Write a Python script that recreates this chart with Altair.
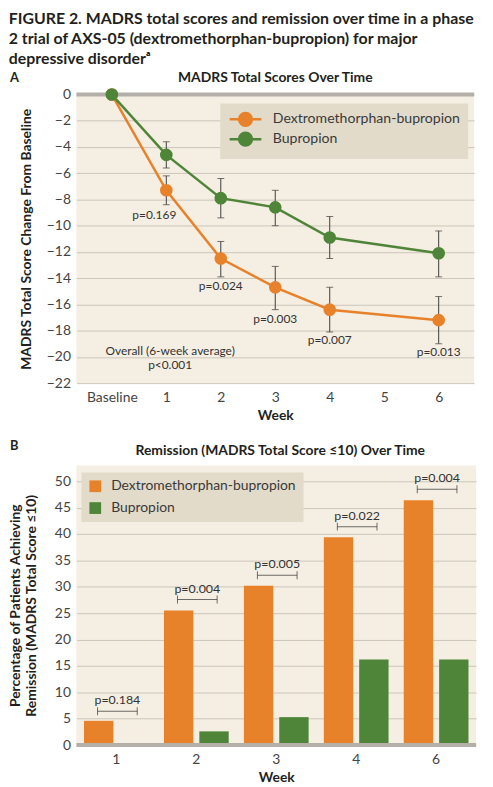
import altair as alt
import pandas as pd

FONT = "Lato"
ORANGE = "#e8822a"
GREEN = "#4e8538"
INK = "#231f20"

series = ["Dextromethorphan-bupropion", "Bupropion"]

# Panel A: MADRS change from baseline (mean, lower and upper error bar)
weeks = [0, 1, 2, 3, 4, 6]
dex_change = [0, -7.3, -12.5, -14.7, -16.4, -17.2]
dex_low = [None, -8.4, -13.9, -16.4, -18.1, -19.0]
dex_high = [None, -6.2, -11.2, -13.1, -14.7, -15.4]
bup_change = [0, -4.6, -7.9, -8.6, -10.9, -12.1]
bup_low = [None, -5.6, -9.4, -10.0, -12.5, -13.9]
bup_high = [None, -3.6, -6.4, -7.3, -9.3, -10.4]

pvals_a = ["p=0.169", "p=0.024", "p=0.003", "p=0.007", "p=0.013"]
pvals_a_week = [0.78, 2, 3, 4, 6]
pvals_a_y = [-9.2, -14.6, -17.1, -18.7, -19.6]

overall_text = ["Overall (6-week average)", "p<0.001"]
overall_week = [1.07, 1.07]
overall_y = [-19.55, -20.6]

# Panel B: remission rates
rem_weeks = ["1", "2", "3", "4", "6"]
dex_rem = [4.6, 25.5, 30.2, 39.4, 46.4]
bup_rem = [0, 2.6, 5.3, 16.2, 16.2]
pvals_b = ["p=0.184", "p=0.004", "p=0.005", "p=0.022", "p=0.004"]
bracket_b = [6.4, 27.6, 32.2, 41.4, 48.5]

df_a = pd.DataFrame({
    "week": weeks * 2,
    "change": dex_change + bup_change,
    "low": dex_low + bup_low,
    "high": dex_high + bup_high,
    "series": [series[0]] * 6 + [series[1]] * 6,
})
df_err = df_a.dropna()
df_caps = df_err.melt(id_vars=["week", "series"], value_vars=["low", "high"], value_name="cap")
df_pa = pd.DataFrame({"week": pvals_a_week, "y": pvals_a_y, "label": pvals_a})
df_overall = pd.DataFrame({"week": overall_week, "y": overall_y, "label": overall_text})

df_b = pd.DataFrame({
    "week": rem_weeks * 2,
    "pct": dex_rem + bup_rem,
    "series": [series[0]] * 5 + [series[1]] * 5,
})
df_pb = pd.DataFrame({"week": rem_weeks, "y": bracket_b, "label": pvals_b})

color_scale = alt.Scale(domain=series, range=[ORANGE, GREEN])


def heading(tag, text, width, y, tag_y):
    # panel letter on the left, panel title centred over the plot
    tag_mark = alt.Chart(pd.DataFrame({"t": [tag]})).mark_text(
        fontSize=13, fontWeight="bold", font=FONT, color=INK, align="left").encode(
        text="t:N", x=alt.value(-67), y=alt.value(tag_y))
    title_mark = alt.Chart(pd.DataFrame({"t": [text]})).mark_text(
        fontSize=14, fontWeight="bold", font=FONT, color=INK).encode(
        text="t:N", x=alt.value(width / 2), y=alt.value(y))
    return tag_mark, title_mark


# ---------- panel A ----------
W_A, H_A = 401, 291
axis_xa = alt.Axis(values=[0, 1, 2, 3, 4, 5, 6], format="d", tickCount=20,
                   labelExpr="datum.value == 0 ? 'Baseline' : datum.label",
                   labelOverlap=False, grid=False, domain=False, ticks=False,
                   labelPadding=8, title="Week", titlePadding=4)
axis_ya = alt.Axis(values=list(range(0, -23, -2)), format="d", tickCount=30,
                   labelOverlap=False, domain=False, ticks=False, labelPadding=6,
                   title="MADRS Total Score Change From Baseline", titlePadding=13)
x_a = alt.X("week:Q", scale=alt.Scale(domain=[-0.65, 6.65], nice=False, zero=False),
            axis=axis_xa)
y_a = alt.Y("change:Q", scale=alt.Scale(domain=[-22, 0], nice=False), axis=axis_ya)

legend_line = "M-2.46,0L2.46,0M-1,0A1,1,0,1,1,1,0A1,1,0,1,1,-1,0Z"
legend_a = alt.Legend(title=None, orient="none", legendX=145, legendY=9,
                      fillColor="#e2dbca", padding=8, symbolType=legend_line,
                      symbolSize=169, symbolStrokeWidth=2.5, symbolOffset=9.5,
                      labelOffset=19.5, labelFontSize=14.2, labelColor="#3a3a3a",
                      labelFont=FONT, labelLimit=400, rowPadding=-4)

zero_a = alt.Chart(pd.DataFrame({"y": [0]})).mark_rule(
    color="#b4afa9", strokeWidth=4).encode(y=alt.Y("y:Q", axis=axis_ya))

err_a = alt.Chart(df_err).mark_rule(color="#3d3d3d", strokeWidth=1).encode(
    x="week:Q", y="low:Q", y2="high:Q")
caps_a = alt.Chart(df_caps).mark_tick(
    color="#3d3d3d", thickness=1, size=7, orient="horizontal").encode(
    x="week:Q", y="cap:Q")

lines_a = alt.Chart(df_a).mark_line(strokeWidth=2.5).encode(
    x=x_a, y=y_a,
    color=alt.Color("series:N", scale=color_scale, legend=legend_a),
    order="week:Q")

points_a = alt.Chart(df_a).mark_point(filled=True, size=115, opacity=1).encode(
    x="week:Q", y="change:Q",
    color=alt.Color("series:N", scale=color_scale, legend=legend_a),
    stroke=alt.Stroke("series:N", scale=color_scale, legend=legend_a))

ptext_a = alt.Chart(df_pa).mark_text(fontSize=12, color="#333333", font=FONT).encode(
    x="week:Q", y="y:Q", text="label:N")
overall_a = alt.Chart(df_overall).mark_text(fontSize=12, color="#333333", font=FONT).encode(
    x="week:Q", y="y:Q", text="label:N")

tag_a, title_a = heading("A", "MADRS Total Scores Over Time", W_A, -17, -17)

panel_a = alt.layer(zero_a, lines_a, err_a, caps_a, points_a, ptext_a, overall_a,
                    tag_a, title_a).properties(width=W_A, height=H_A)

# ---------- panel B ----------
W_B, H_B = 403, 282
legend_b = alt.Legend(title=None, orient="none", legendX=5, legendY=7,
                      fillColor="#e2dbca", padding=7, symbolType="square",
                      symbolSize=140, symbolStrokeWidth=0, labelOffset=9,
                      labelFontSize=14, labelColor="#3a3a3a", labelFont=FONT,
                      labelLimit=400, rowPadding=8)

axis_yb = alt.Axis(values=list(range(0, 51, 5)), tickCount=30, labelOverlap=False,
                   domain=False, ticks=False, labelPadding=6,
                   title=["Percentage of Patients Achieving",
                          "Remission (MADRS Total Score ≤10)"],
                   titlePadding=16)
y_b = alt.Y("pct:Q", scale=alt.Scale(domain=[0, 53], nice=False), axis=axis_yb)

bars_b = alt.Chart(df_b).mark_bar().encode(
    x=alt.X("week:N", sort=rem_weeks,
            scale=alt.Scale(paddingInner=0.19, paddingOuter=0.095),
            axis=alt.Axis(labelAngle=0, domain=False, ticks=False, labelPadding=8,
                          title="Week", titlePadding=4)),
    xOffset=alt.XOffset("series:N", sort=series, scale=alt.Scale(paddingInner=0.17)),
    y=y_b,
    color=alt.Color("series:N", scale=color_scale, legend=legend_b))

zero_b = alt.Chart(pd.DataFrame({"y": [0]})).mark_rule(
    color="#b4afa9", strokeWidth=4).encode(y=alt.Y("y:Q", axis=axis_yb))

bracket_line = alt.Chart(df_pb).mark_tick(
    color="#333333", thickness=1, size=40, xOffset=1, orient="horizontal").encode(
    x=alt.X("week:N", sort=rem_weeks), y="y:Q")
bracket_left = alt.Chart(df_pb).mark_tick(
    color="#333333", thickness=1, size=8, xOffset=-19, orient="vertical").encode(
    x=alt.X("week:N", sort=rem_weeks), y="y:Q")
bracket_right = alt.Chart(df_pb).mark_tick(
    color="#333333", thickness=1, size=8, xOffset=21, orient="vertical").encode(
    x=alt.X("week:N", sort=rem_weeks), y="y:Q")
ptext_b = alt.Chart(df_pb).mark_text(
    fontSize=12.5, color="#333333", font=FONT, dy=-11, dx=1).encode(
    x=alt.X("week:N", sort=rem_weeks), y="y:Q", text="label:N")

tag_b, title_b = heading("B", "Remission (MADRS Total Score ≤10) Over Time", W_B + 8, -15, -20)

panel_b = alt.layer(bars_b, zero_b, bracket_line, bracket_left, bracket_right,
                    ptext_b, tag_b, title_b).properties(width=W_B, height=H_B)

chart = alt.vconcat(panel_a, panel_b, spacing=17).resolve_scale(
    color="independent", stroke="independent"
).properties(
    padding={"left": 0, "top": 0, "right": 6, "bottom": 0},
    title=alt.TitleParams(
        ["FIGURE 2.  MADRS total scores and remission over time in a phase",
         "2 trial of AXS-05 (dextromethorphan-bupropion) for major",
         "depressive disorderᵃ"],
        anchor="start", frame="bounds", fontSize=16, font=FONT, fontWeight="bold",
        color=INK, lineHeight=20, offset=4)
).configure_view(
    stroke=None, fill="#f5eee2"
).configure_axis(
    gridColor="#cbc5ba", gridWidth=1, labelColor="#444444", labelFont=FONT,
    labelFontSize=14, labelOverlap=False, titleFont=FONT, titleFontSize=14,
    titleFontWeight="bold", titleColor=INK
)

chart.save("out.html", embed_options={"renderer": "svg", "actions": False})
